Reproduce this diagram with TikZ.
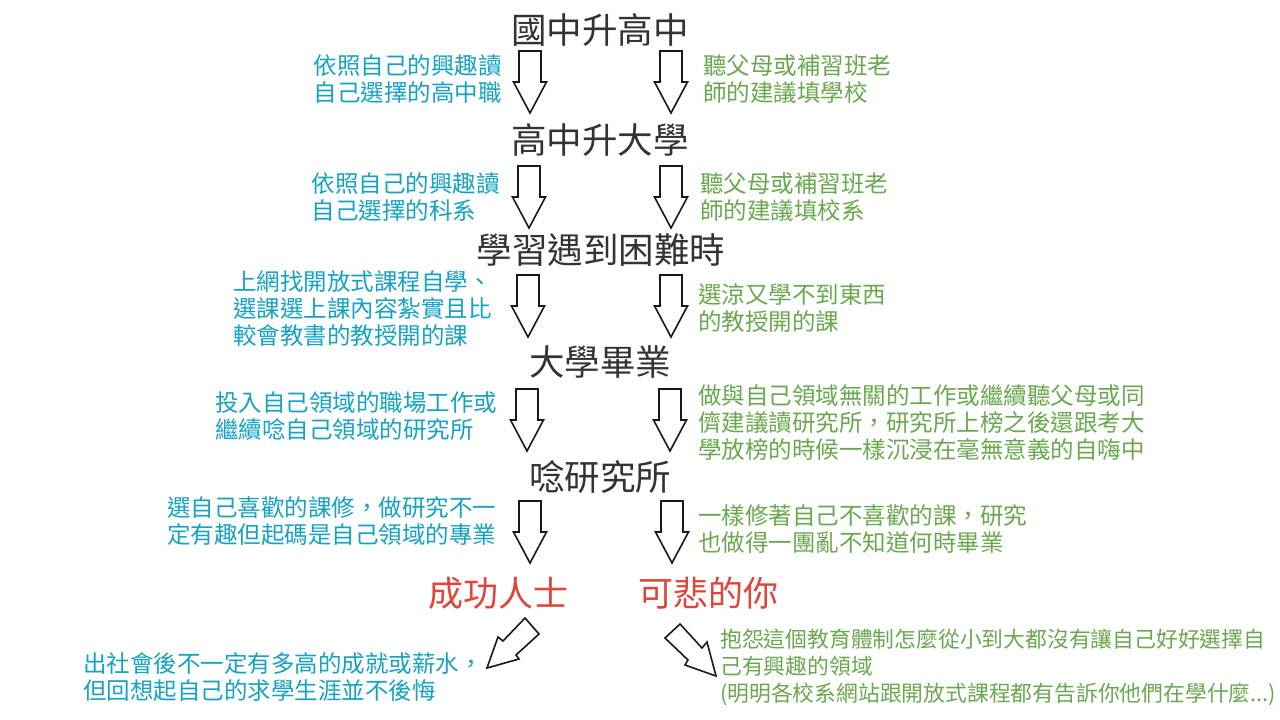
\documentclass[tikz,border=0pt]{standalone}
\usepackage{fontspec}
\setmainfont{Noto Sans CJK TC}
\definecolor{cblue}{HTML}{14A3C2}
\definecolor{cgreen}{HTML}{6AA84F}
\definecolor{cred}{HTML}{E0443A}
\definecolor{cgray}{HTML}{333333}
\begin{document}
\begin{tikzpicture}[x=1pt,y=-1pt,
  title/.style={inner sep=0pt,text=cgray,font=\fontsize{35.5}{40}\selectfont},
  redtitle/.style={inner sep=0pt,text=cred,font=\fontsize{35}{40}\selectfont},
  note/.style={inner sep=0pt,align=left,font=\fontsize{23.5}{27}\selectfont},
  smallnote/.style={inner sep=0pt,align=left,font=\fontsize{21.8}{27}\selectfont},
  bluenote/.style={note,text=cblue},
  greennote/.style={note,text=cgreen},
  arrowline/.style={draw=black!90,line width=1.6pt,line join=miter,fill=white},
  downarr/.pic={\path[arrowline] (-11,0) -- (11,0) -- (11,31) -- (16.5,31) -- (0,62) -- (-16.5,31) -- (-11,31) -- cycle;}
]
\useasboundingbox (0,0) rectangle (1280,720);
\fill[white] (0,0) rectangle (1280,720);

% titles
\node[title] (t1) at (600,30) {國中升高中};
\node[title] (t2) at (600,140) {高中升大學};
\node[title] (t3) at (601,250) {學習遇到困難時};
\node[title] (t4) at (600,362) {大學畢業};
\node[title] (t5) at (600,477) {唸研究所};
\node[redtitle] (r1) at (498,593) {成功人士};
\node[redtitle] (r2) at (708,593) {可悲的你};

% down arrows
\pic (a1l) at (530,51) {downarr};
\pic (a1r) at (671,51) {downarr};
\pic (a2l) at (529,166) {downarr};
\pic (a2r) at (671,166) {downarr};
\pic (a3l) at (528,275) {downarr};
\pic (a3r) at (671,275) {downarr};
\pic (a4l) at (527,389) {downarr};
\pic (a4r) at (670,389) {downarr};
\pic (a5l) at (530,501) {downarr};
\pic (a5r) at (672,501) {downarr};

% diagonal arrows
\path[arrowline] (525,618) -- (539,634) -- (516,655) -- (519,659) -- (487,668) -- (498,637) -- (503,641) -- cycle;
\path[arrowline] (665,638) -- (680,624) -- (702,648) -- (707,642) -- (716,676) -- (685,665) -- (688,660) -- cycle;

% notes
\node[bluenote,anchor=east] (l1) at (502,79) {依照自己的興趣讀\\自己選擇的高中職};
\node[greennote,anchor=west] (g1) at (703,79) {聽父母或補習班老\\師的建議填學校};
\node[bluenote,anchor=east] (l2) at (500,197) {依照自己的興趣讀\\自己選擇的科系};
\node[greennote,anchor=west] (g2) at (700,197) {聽父母或補習班老\\師的建議填校系};
\node[bluenote,anchor=west] (l3) at (233,309) {上網找開放式課程自學、\\選課選上課內容紮實且比\\較會教書的教授開的課};
\node[greennote,anchor=west] (g3) at (698,308) {選涼又學不到東西\\的教授開的課};
\node[bluenote,anchor=west] (l4) at (215,416) {投入自己領域的職場工作或\\繼續唸自己領域的研究所};
\node[greennote,anchor=west] (g4) at (698,422) {做與自己領域無關的工作或繼續聽父母或同\\儕建議讀研究所，研究所上榜之後還跟考大\\學放榜的時候一樣沉浸在毫無意義的自嗨中};
\node[bluenote,anchor=west] (l5) at (167,521) {選自己喜歡的課修，做研究不一\\定有趣但起碼是自己領域的專業};
\node[greennote,anchor=west] (g5) at (698,529) {一樣修著自己不喜歡的課，研究\\也做得一團亂不知道何時畢業};
\node[bluenote,anchor=west] (l6) at (83,677) {出社會後不一定有多高的成就或薪水，\\但回想起自己的求學生涯並不後悔};
\node[smallnote,text=cgreen,anchor=west] (g6) at (720,667) {抱怨這個教育體制怎麼從小到大都沒有讓自己好好選擇自\\己有興趣的領域\\(明明各校系網站跟開放式課程都有告訴你他們在學什麼...)};
\end{tikzpicture}
\end{document}
